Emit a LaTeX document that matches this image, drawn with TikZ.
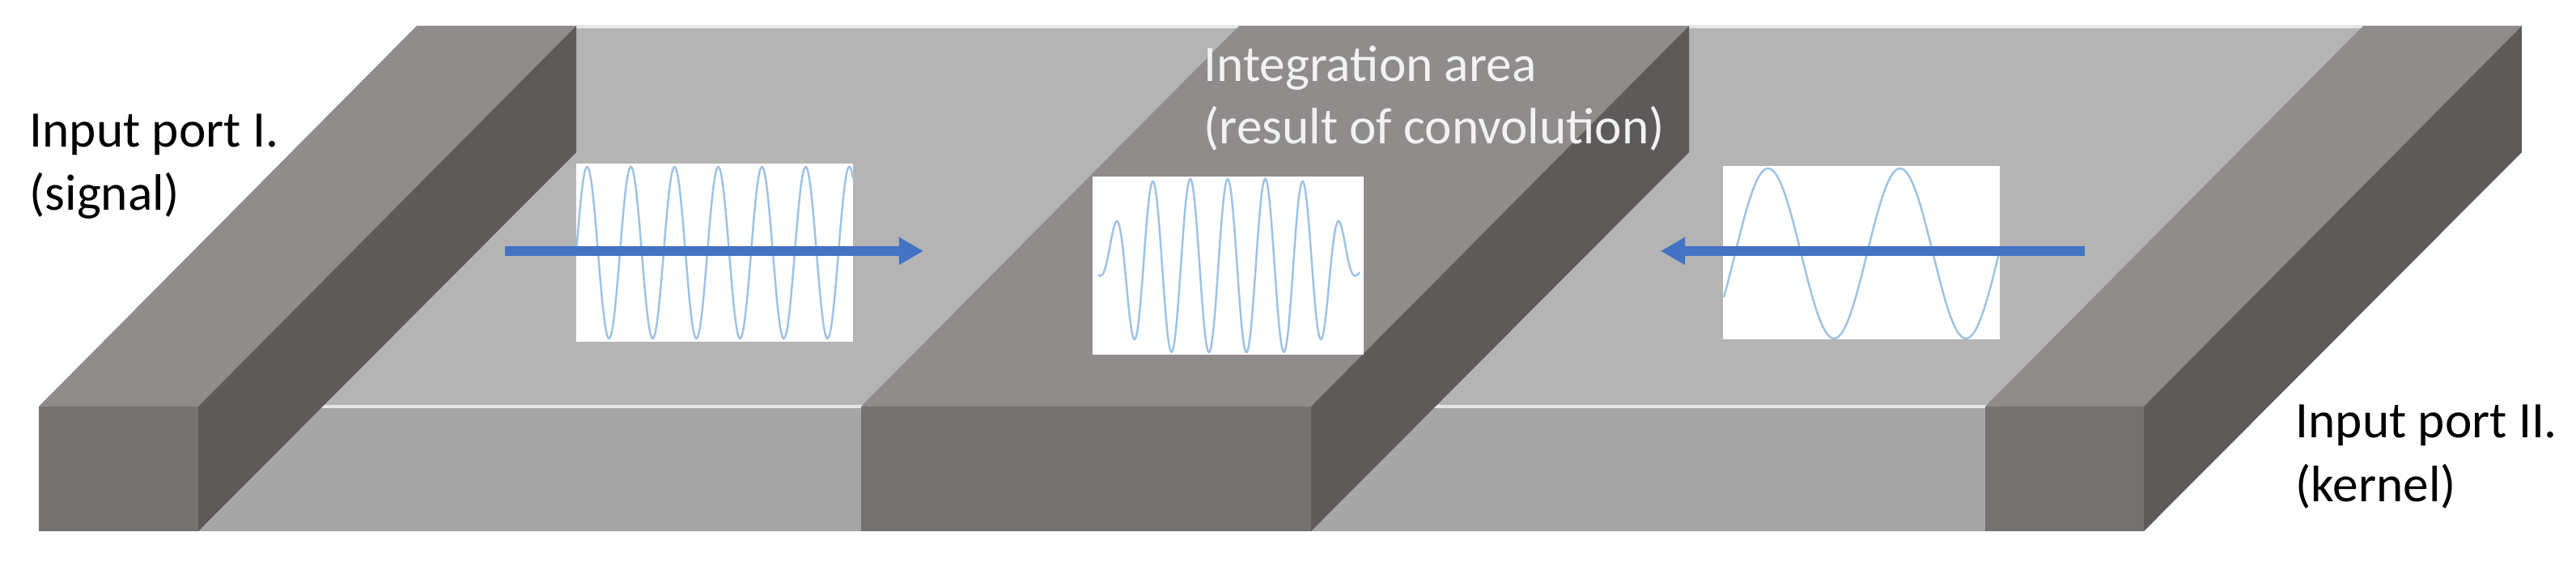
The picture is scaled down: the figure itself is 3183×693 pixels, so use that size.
\documentclass[tikz,border=0pt]{standalone}
\usepackage{fontspec}
\setmainfont{Carlito}
\usetikzlibrary{arrows.meta}
\definecolor{btop}{HTML}{8F8C8B}
\definecolor{bside}{HTML}{5E5A59}
\definecolor{bfront}{HTML}{757170}
\definecolor{ftop}{HTML}{B4B4B4}
\definecolor{ffront}{HTML}{A6A6A6}
\definecolor{wave}{HTML}{9DC3E6}
\definecolor{arr}{HTML}{4472C4}
\begin{document}
\begin{tikzpicture}[x=0.01cm,y=-0.01cm,
  lbl/.style={anchor=base west,inner sep=0pt,font=\fontsize{18}{22}\selectfont},
  wv/.style={draw=wave,line width=0.7pt},
  bigarrow/.style={draw=arr,line width=3.2pt,-{Triangle[length=0.3cm,width=0.32cm]}}]
\useasboundingbox (0,0) rectangle (3183,693);
\fill[white] (0,0) rectangle (3183,693);
% floor
\fill[ftop] (48,502) -- (2649,502) -- (3116,32) -- (515,32) -- cycle;
\fill[ffront] (48,502) rectangle (2649,656);
\draw[white!80!gray,line width=1pt] (48,502) -- (2649,502);
\draw[white!80!gray,line width=1pt] (515,33) -- (3116,33);
% blocks
\foreach \a/\b in {48/245, 1064/1620, 2453/2649}{
  \fill[bfront] (\a,502) rectangle (\b,656);
  \fill[btop] (\a,502) -- (\b,502) -- ({\b+467},32) -- ({\a+467},32) -- cycle;
  \fill[bside] (\b,656) -- (\b,502) -- ({\b+467},32) -- ({\b+467},188) -- cycle;
}
% wave boxes
\fill[white] (712,202) rectangle (1054,422);
\draw[wv] plot[domain=712:1054,samples=300] (\x,{312-106*sin((\x-712)/54*360)});
\fill[white] (1350,218) rectangle (1685,438);
\draw[wv] plot[domain=1357:1680,samples=300] (\x,{328-107*exp(-((\x-1517)/145)^8)*cos((\x-1517)/46.3*360)});
\fill[white] (2129,205) rectangle (2471,419);
\draw[wv] plot[domain=2130:2470,samples=300] (\x,{313-105*sin((\x-2144)/163*360)});
% arrows
\coordinate (a1s) at (624,310);
\coordinate (a1e) at (1141,310);
\coordinate (a2s) at (2576,310);
\coordinate (a2e) at (2052,310);
\draw[bigarrow] (a1s) -- (a1e);
\draw[bigarrow] (a2s) -- (a2e);
% labels
\node[lbl] (l1) at (36,181) {Input port I.};
\node[lbl] (l2) at (36,259) {(signal)};
\node[lbl,text=white!95!black] (m1) at (1487,100) {Integration area};
\node[lbl,text=white!95!black] (m2) at (1487,177) {(result of convolution)};
\node[lbl] (r1) at (2836,540) {Input port II.};
\node[lbl] (r2) at (2836,619) {(kernel)};
\end{tikzpicture}
\end{document}
